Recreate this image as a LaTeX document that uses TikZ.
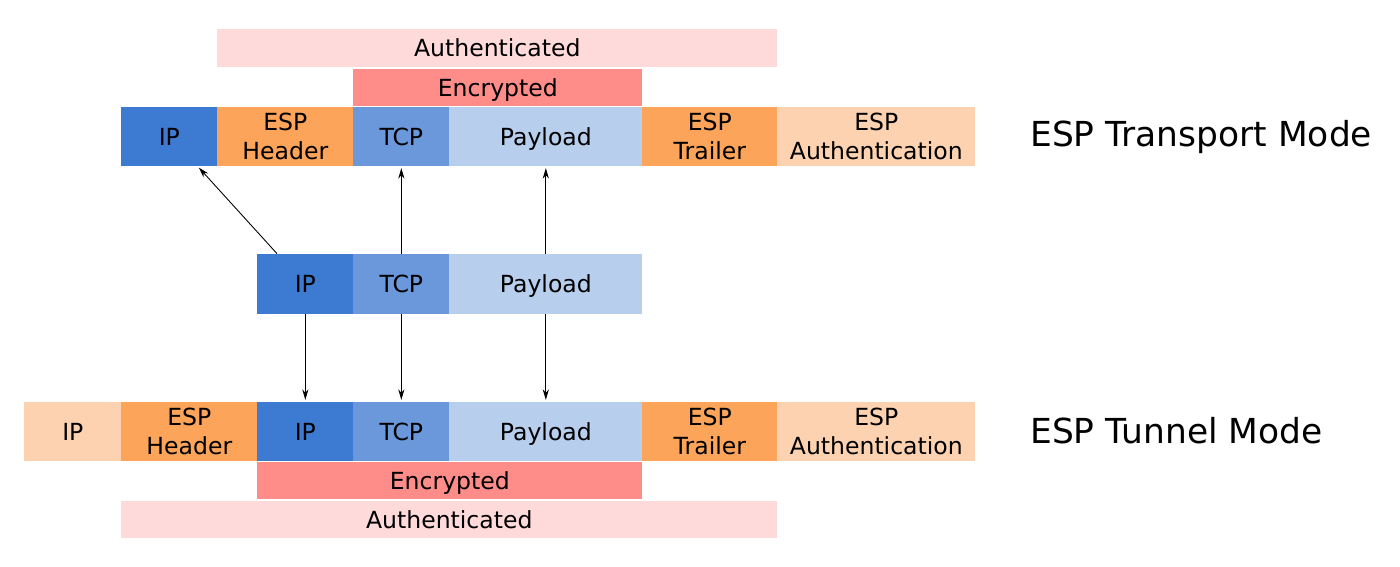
\documentclass[tikz,border=0pt]{standalone}
\usepackage{fontspec}
\setmainfont{DejaVu Sans}
\usetikzlibrary{arrows.meta}
\definecolor{ipblue}{RGB}{61,122,209}
\definecolor{tcpblue}{RGB}{106,152,218}
\definecolor{payblue}{RGB}{183,206,237}
\definecolor{espor}{RGB}{251,164,90}
\definecolor{peach}{RGB}{253,210,176}
\definecolor{encred}{RGB}{254,141,138}
\definecolor{authpink}{RGB}{255,218,218}
\begin{document}
\begin{tikzpicture}[x=0.02cm, y=-0.02cm,
  cell/.style={fill=#1, inner sep=0pt, anchor=west, align=center, text depth=0pt, minimum height=1.18cm, font=\fontsize{13.4}{16.4}\selectfont},
  band/.style={fill=#1, inner sep=0pt, anchor=west, text depth=0pt, minimum height=0.75cm, font=\fontsize{13.4}{16.4}\selectfont},
  mode/.style={anchor=base west, inner sep=0pt, font=\fontsize{19.6}{24}\selectfont},
  link/.style={line width=0.5pt, -{Stealth[length=6pt, width=3.5pt]}, shorten >=1pt}]
\useasboundingbox (0,0) rectangle (1400,567);

% transport mode
\node (tautn) at (217,48) [band=authpink, minimum width=11.2cm] {Authenticated};
\node (tenc) at (353,87.5) [band=encred, minimum width=5.78cm] {Encrypted};
\node (tip) at (121,136.5) [cell=ipblue, minimum width=1.92cm] {IP};
\node (tesph) at (217,136.5) [cell=espor, minimum width=2.72cm] {ESP\\Header};
\node (ttcp) at (353,136.5) [cell=tcpblue, minimum width=1.92cm] {TCP};
\node (tpay) at (449,136.5) [cell=payblue, minimum width=3.86cm] {Payload};
\node (ttrl) at (642,136.5) [cell=espor, minimum width=2.7cm] {ESP\\Trailer};
\node (tauth) at (777,136.5) [cell=peach, minimum width=3.96cm] {ESP\\Authentication};
\node (tmode) at (1030,147) [mode] {ESP Transport Mode};

% original packet
\node (mip) at (257,284) [cell=ipblue, minimum width=1.92cm, minimum height=1.2cm] {IP};
\node (mtcp) at (353,284) [cell=tcpblue, minimum width=1.92cm, minimum height=1.2cm] {TCP};
\node (mpay) at (449,284) [cell=payblue, minimum width=3.86cm, minimum height=1.2cm] {Payload};

% tunnel mode
\node (bnip) at (24,431.5) [cell=peach, minimum width=1.94cm] {IP};
\node (besph) at (121,431.5) [cell=espor, minimum width=2.72cm] {ESP\\Header};
\node (bip) at (257,431.5) [cell=ipblue, minimum width=1.92cm] {IP};
\node (btcp) at (353,431.5) [cell=tcpblue, minimum width=1.92cm] {TCP};
\node (bpay) at (449,431.5) [cell=payblue, minimum width=3.86cm] {Payload};
\node (btrl) at (642,431.5) [cell=espor, minimum width=2.7cm] {ESP\\Trailer};
\node (bauth) at (777,431.5) [cell=peach, minimum width=3.96cm] {ESP\\Authentication};
\node (benc) at (257,480.5) [band=encred, minimum width=7.7cm] {Encrypted};
\node (bautn) at (121,519.5) [band=authpink, minimum width=13.12cm] {Authenticated};
\node (bmode) at (1030,443) [mode] {ESP Tunnel Mode};

\draw[link] ([xshift=0.4cm]mip.north west) -- ([xshift=-0.4cm]tip.south east);
\draw[link] (mtcp.north) -- (ttcp.south);
\draw[link] (mpay.north) -- (tpay.south);
\draw[link] (mip.south) -- (bip.north);
\draw[link] (mtcp.south) -- (btcp.north);
\draw[link] (mpay.south) -- (bpay.north);
\end{tikzpicture}
\end{document}
